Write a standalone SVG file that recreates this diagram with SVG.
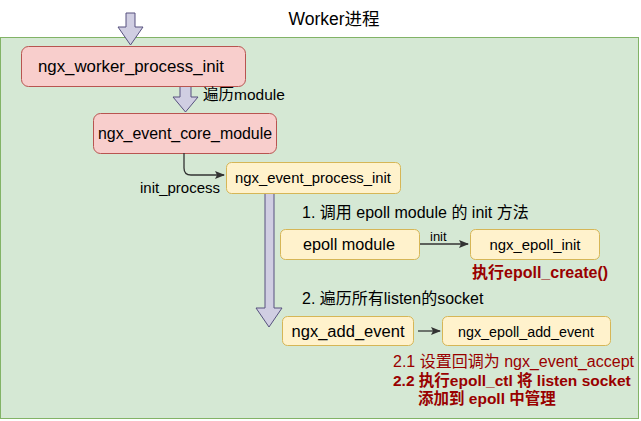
<svg xmlns="http://www.w3.org/2000/svg" width="641" height="421" viewBox="0 0 641 421">
<style>
.t{font-family:"Liberation Sans","Noto Sans CJK SC",sans-serif;fill:#000}
.pink{fill:#f8cecc;stroke:#b85450;stroke-width:1}
.yel{fill:#fff2cc;stroke:#d6b656;stroke-width:1}
.blk{fill:#d0cee2;stroke:#56517e;stroke-width:1}
.red{font-family:"Liberation Sans","Noto Sans CJK SC",sans-serif;fill:#990000}
.con{fill:none;stroke:#333;stroke-width:1.3}
</style>
<defs>
<marker id="ah" markerWidth="10" markerHeight="8" refX="9" refY="4" orient="auto" markerUnits="userSpaceOnUse">
<path d="M0,0 L10,4 L0,8 L2,4 Z" fill="#333"/>
</marker>
</defs>
<rect width="641" height="421" fill="#fff"/>
<text class="t" x="334" y="25" font-size="17.5" text-anchor="middle">Worker进程</text>
<g id="container">
<rect x="0.5" y="37.5" width="638" height="381" fill="#d5e8d4" stroke="#82b366"/>
</g>
<g id="arrows-block">
<path class="blk" d="M126,13 H135 V27 H143 L130.5,45 L118,27 H126 Z"/>
<path class="blk" d="M180,86 H191 V97 H198 L185.5,112 L173,97 H180 Z"/>
<path class="blk" d="M265,193 H274 V308 H282 L269,327 L256,308 H265 Z"/>
</g>
<g id="n1">
<rect class="pink" x="21.5" y="46.5" width="224" height="40" rx="7"/>
<text class="t" x="131" y="72" font-size="16" text-anchor="middle" textLength="186" lengthAdjust="spacingAndGlyphs">ngx_worker_process_init</text>
</g>
<text class="t" x="203" y="100" font-size="15.5">遍历module</text>
<g id="n2">
<rect class="pink" x="93.5" y="113.5" width="183" height="40" rx="7"/>
<text class="t" x="185" y="139" font-size="16" text-anchor="middle" textLength="174" lengthAdjust="spacingAndGlyphs">ngx_event_core_module</text>
</g>
<g id="n3">
<rect class="yel" x="226.5" y="162.5" width="174" height="31" rx="5"/>
<text class="t" x="313" y="183" font-size="14" text-anchor="middle" textLength="156" lengthAdjust="spacingAndGlyphs">ngx_event_process_init</text>
</g>
<g id="n4">
<rect class="yel" x="280.5" y="229.5" width="139" height="30" rx="5"/>
<text class="t" x="349" y="250" font-size="16" text-anchor="middle" textLength="92" lengthAdjust="spacingAndGlyphs">epoll module</text>
</g>
<g id="n5">
<rect class="yel" x="470.5" y="229.5" width="129" height="30" rx="5"/>
<text class="t" x="535" y="250" font-size="14" text-anchor="middle" textLength="91" lengthAdjust="spacingAndGlyphs">ngx_epoll_init</text>
</g>
<g id="n6">
<rect class="yel" x="282.5" y="316.5" width="131" height="29" rx="5"/>
<text class="t" x="348" y="337" font-size="16" text-anchor="middle" textLength="113" lengthAdjust="spacingAndGlyphs">ngx_add_event</text>
</g>
<g id="n7">
<rect class="yel" x="442.5" y="316.5" width="168" height="29" rx="5"/>
<text class="t" x="526" y="337" font-size="14" text-anchor="middle" textLength="136" lengthAdjust="spacingAndGlyphs">ngx_epoll_add_event</text>
</g>
<g id="connectors">
<path class="con" d="M184,153 V168 Q184,175 191,175 H224" marker-end="url(#ah)"/>
<path class="con" d="M420,244 H468" marker-end="url(#ah)"/>
<path class="con" d="M418,331 H440" marker-end="url(#ah)"/>
</g>
<text class="t" x="140" y="193" font-size="14" textLength="80" lengthAdjust="spacingAndGlyphs">init_process</text>
<text class="t" x="430" y="241" font-size="13">init</text>
<text class="t" x="302" y="218" font-size="16">1. 调用 epoll module 的 init 方法</text>
<text class="red" x="472" y="278" font-size="16" font-weight="bold">执行epoll_create()</text>
<text class="t" x="302" y="304" font-size="16">2. 遍历所有listen的socket</text>
<text class="red" x="393" y="367" font-size="16">2.1 设置回调为 ngx_event_accept</text>
<text class="red" x="393" y="386" font-size="15.5" font-weight="bold">2.2 执行epoll_ctl 将 listen socket</text>
<text class="red" x="418" y="404" font-size="15.5" font-weight="bold">添加到 epoll 中管理</text>
</svg>
